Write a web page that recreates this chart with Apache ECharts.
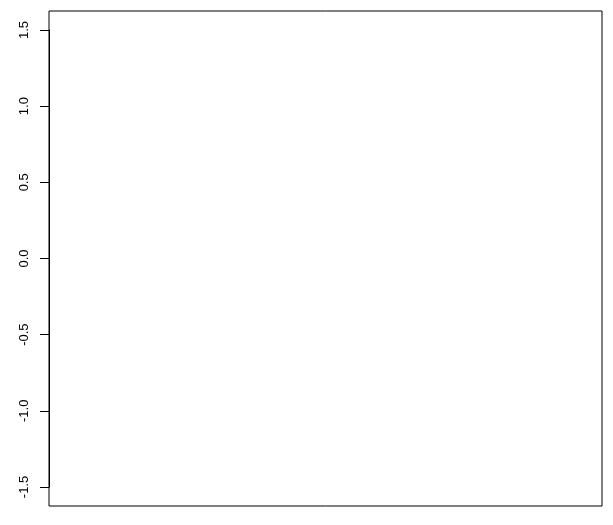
<!DOCTYPE html>
<html>
<head>
<meta charset="utf-8">
<script src="https://cdn.jsdelivr.net/npm/echarts@6/dist/echarts.min.js"></script>
<style>
html,body{margin:0;padding:0;background:#fff;}
#c{width:613px;height:525px;}
</style>
</head>
<body>
<div id="c"></div>
<script>
// Empty plot: only the frame and y-axis ticks/labels
const yTickMin = -1.5;
const yTickMax = 1.5;
const yTickStep = 0.5;
const xRange = [0, 1];
const seriesData = [];

const chart = echarts.init(document.getElementById('c'), null, {renderer: 'canvas'});
chart.setOption({
  backgroundColor: '#ffffff',
  animation: false,
  grid: [
    {left: 49, right: 11, top: 30, bottom: 38, show: false},
    {left: 49, right: 11, top: 11, bottom: 19, show: true, borderColor: '#000', borderWidth: 1, backgroundColor: 'transparent'}
  ],
  xAxis: [
    {gridIndex: 0, type: 'value', min: xRange[0], max: xRange[1], show: false},
    {gridIndex: 1, type: 'value', min: xRange[0], max: xRange[1], show: false}
  ],
  yAxis: [
    {
      gridIndex: 0, type: 'value', min: yTickMin, max: yTickMax, interval: yTickStep,
      position: 'left',
      axisLine: {show: true, onZero: false, lineStyle: {color: '#000', width: 1}},
      axisTick: {show: true, inside: false, length: 9, lineStyle: {color: '#000', width: 1}},
      axisLabel: {
        show: true, rotate: 90, margin: 18, color: '#000',
        fontFamily: 'Liberation Sans, Arial, sans-serif', fontSize: 13,
        formatter: v => Number(v).toFixed(1)
      },
      splitLine: {show: false}
    },
    {gridIndex: 1, type: 'value', min: -1, max: 1, show: false}
  ],
  series: [{type: 'scatter', xAxisIndex: 0, yAxisIndex: 0, data: seriesData}]
});
</script>
</body>
</html>
